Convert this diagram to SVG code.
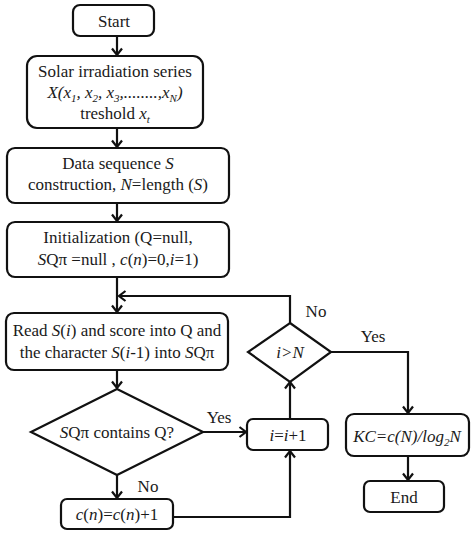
<svg xmlns="http://www.w3.org/2000/svg" width="474" height="535" viewBox="0 0 474 535" font-family="Liberation Serif, Times New Roman, serif">
<style>
.box{fill:#fff;stroke:#111;stroke-width:2.2}
.ln{fill:none;stroke:#111;stroke-width:2.2}
text{font-family:"Liberation Serif","Times New Roman",serif}
.t{font-size:17px;fill:#1a1a1a;text-anchor:middle}
.i{font-style:italic}
.sb{font-size:11px}
</style>
<defs>
<marker id="ah" markerUnits="userSpaceOnUse" markerWidth="14" markerHeight="14" refX="8" refY="6" orient="auto">
<path d="M1.5,1 L8,6 L1.5,11" fill="none" stroke="#111" stroke-width="2.2"/>
</marker>
</defs>
<rect width="474" height="535" fill="#fff"/>
<g id="connectors">
<line class="ln" x1="117" y1="36" x2="117" y2="55" marker-end="url(#ah)"/>
<line class="ln" x1="117" y1="128" x2="117" y2="147" marker-end="url(#ah)"/>
<line class="ln" x1="117" y1="203" x2="117" y2="221" marker-end="url(#ah)"/>
<line class="ln" x1="117" y1="277" x2="117" y2="312" marker-end="url(#ah)"/>
<polyline class="ln" points="290,323 290,296 119,296" marker-end="url(#ah)"/>
<line class="ln" x1="117" y1="370" x2="117" y2="388" marker-end="url(#ah)"/>
<line class="ln" x1="203" y1="432" x2="246" y2="432" marker-end="url(#ah)"/>
<line class="ln" x1="117" y1="475" x2="117" y2="498" marker-end="url(#ah)"/>
<polyline class="ln" points="173,517 290,517 290,451" marker-end="url(#ah)"/>
<line class="ln" x1="290" y1="419" x2="290" y2="382" marker-end="url(#ah)"/>
<polyline class="ln" points="331,352 408,352 408,413" marker-end="url(#ah)"/>
<line class="ln" x1="408" y1="456" x2="408" y2="480" marker-end="url(#ah)"/>
<text class="t" x="219" y="423">Yes</text>
<text class="t" x="148" y="492">No</text>
<text class="t" x="316" y="317">No</text>
<text class="t" x="373" y="342">Yes</text>
</g>
<g id="start">
<rect class="box" x="73" y="5" width="81" height="31" rx="7"/>
<text class="t" x="114" y="27">Start</text>
</g>
<g id="solar">
<rect class="box" x="27" y="56" width="176" height="72" rx="10"/>
<text class="t" x="115" y="77">Solar irradiation series</text>
<text class="t i" x="115" y="98">X(x<tspan class="sb" dy="4">1</tspan><tspan dy="-4">, x</tspan><tspan class="sb" dy="4">2</tspan><tspan dy="-4">, x</tspan><tspan class="sb" dy="4">3</tspan><tspan dy="-4">,........,x</tspan><tspan class="sb" dy="4">N</tspan><tspan dy="-4">)</tspan></text>
<text class="t" x="115" y="119">treshold <tspan class="i">x</tspan><tspan class="i sb" dy="4">t</tspan></text>
</g>
<g id="data">
<rect class="box" x="7" y="148" width="222" height="55" rx="8"/>
<text class="t" x="118" y="169">Data sequence <tspan class="i">S</tspan></text>
<text class="t" x="118" y="190">construction, <tspan class="i">N</tspan>=length (<tspan class="i">S</tspan>)</text>
</g>
<g id="init">
<rect class="box" x="7" y="222" width="222" height="55" rx="8"/>
<text class="t" x="118" y="243">Initialization (Q=null,</text>
<text class="t" x="118" y="265"><tspan class="i">S</tspan>Qπ =null , <tspan class="i">c</tspan>(<tspan class="i">n</tspan>)=0,<tspan class="i">i</tspan>=1)</text>
</g>
<g id="read">
<rect class="box" x="6" y="313" width="222" height="57" rx="8"/>
<text class="t" x="117" y="336">Read <tspan class="i">S</tspan>(<tspan class="i">i</tspan>) and score into Q and</text>
<text class="t" x="117" y="358">the character <tspan class="i">S</tspan>(<tspan class="i">i</tspan>-1) into <tspan class="i">S</tspan>Qπ</text>
</g>
<g id="contains">
<polygon class="box" points="117,389 203,432 117,475 31,432"/>
<text class="t" x="117" y="438"><tspan class="i">S</tspan>Qπ contains  Q?</text>
</g>
<g id="increment-c">
<rect class="box" x="61" y="499" width="112" height="30" rx="6"/>
<text class="t" x="117" y="520"><tspan class="i">c</tspan>(<tspan class="i">n</tspan>)=<tspan class="i">c</tspan>(<tspan class="i">n</tspan>)+1</text>
</g>
<g id="increment-i">
<rect class="box" x="247" y="419" width="81" height="31" rx="6"/>
<text class="t" x="288" y="441"><tspan class="i">i</tspan>=<tspan class="i">i</tspan>+1</text>
</g>
<g id="check">
<polygon class="box" points="290,323 331,352 290,382 248,352"/>
<text class="t i" x="290" y="358">i&gt;N</text>
</g>
<g id="kc">
<rect class="box" x="346" y="414" width="123" height="42" rx="8"/>
<text class="t i" x="407" y="442">KC=c(N)/log<tspan class="sb" dy="4">2</tspan><tspan dy="-4">N</tspan></text>
</g>
<g id="end">
<rect class="box" x="364" y="481" width="80" height="31" rx="6"/>
<text class="t" x="404" y="503">End</text>
</g>
</svg>
